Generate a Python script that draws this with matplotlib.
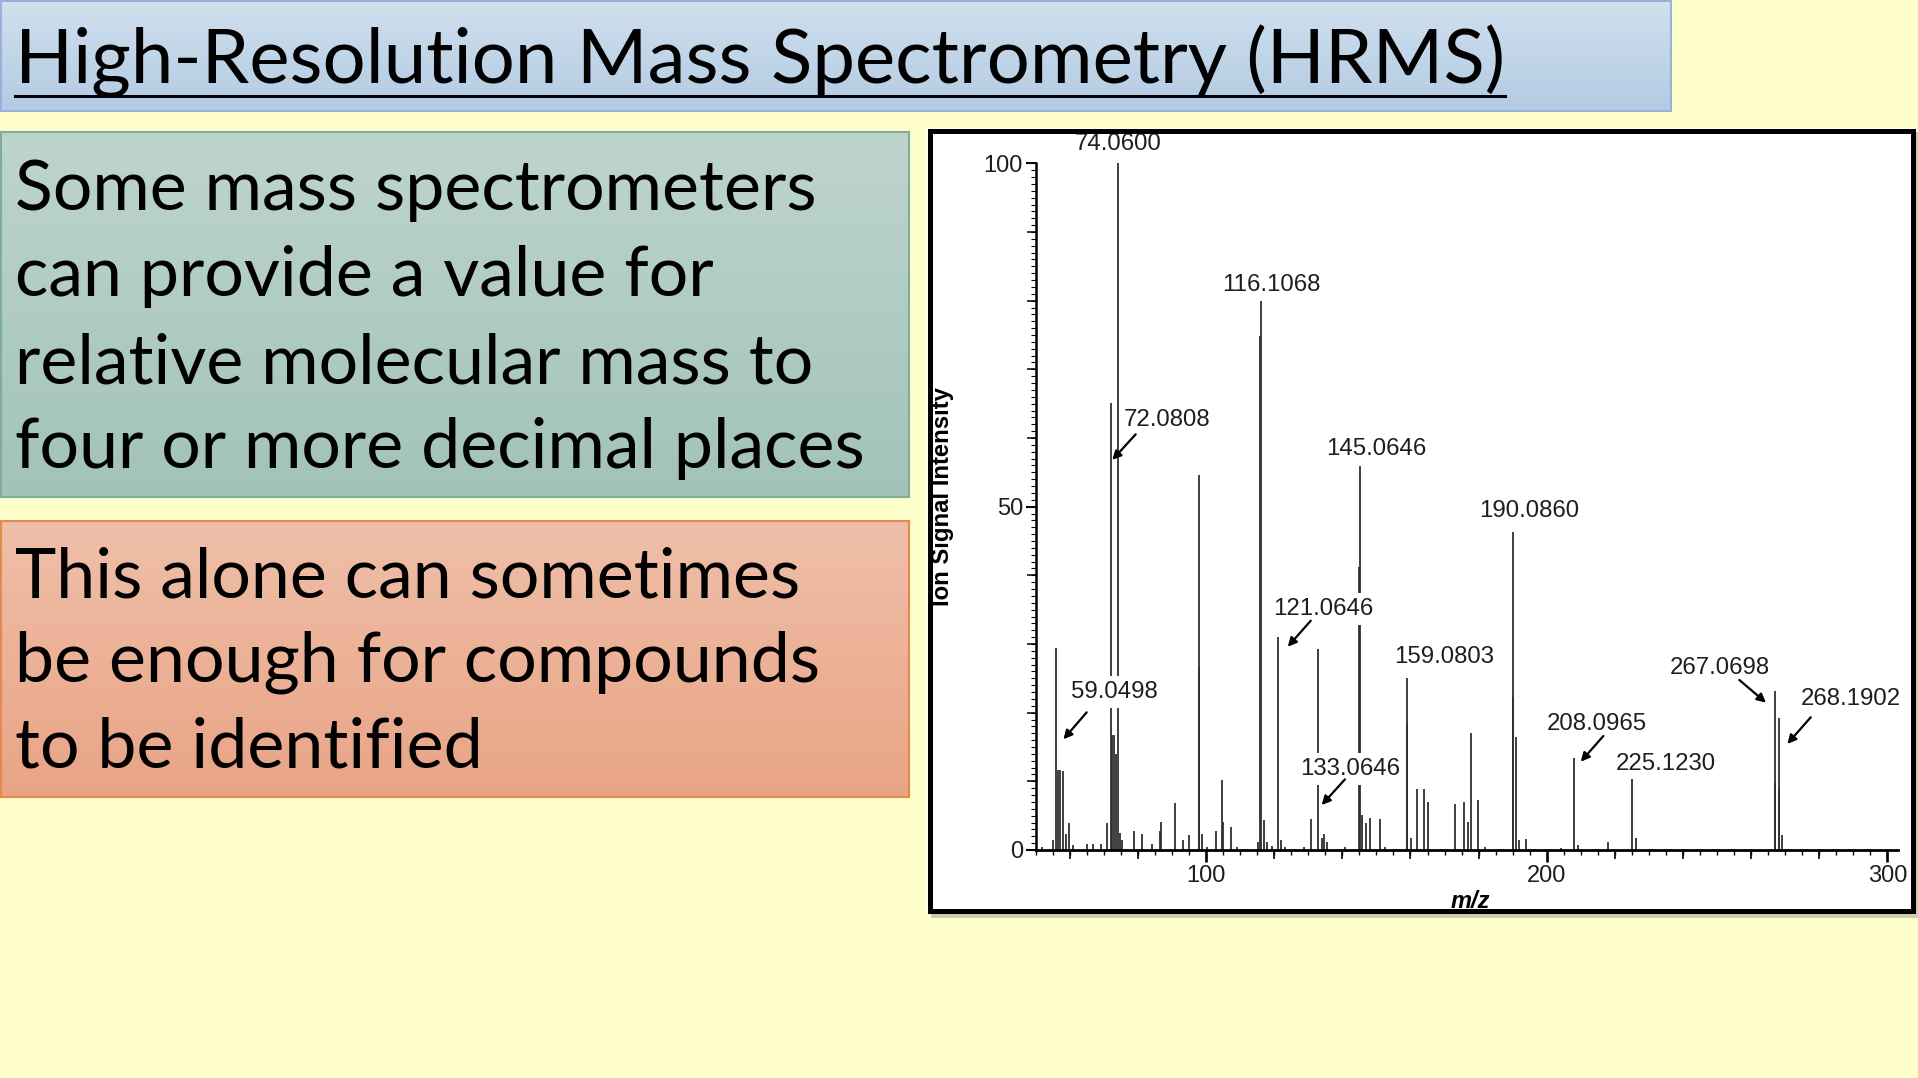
import matplotlib
matplotlib.use("Agg")
import matplotlib.pyplot as plt
import numpy as np
from matplotlib.patches import Rectangle
from matplotlib.lines import Line2D
from matplotlib.transforms import offset_copy
from matplotlib.ticker import MultipleLocator, FixedLocator, NullFormatter
from matplotlib.colors import to_rgb

plt.rcParams['font.family'] = ['Liberation Sans', 'DejaVu Sans']

# ---------------- data ----------------
title_text = "High-Resolution Mass Spectrometry (HRMS)"
green_lines = ["Some mass spectrometers",
               "can provide a value for",
               "relative molecular mass to",
               "four or more decimal places"]
orange_lines = ["This alone can sometimes",
                "be enough for compounds",
                "to be identified"]

peak_mz = [51.7, 55.1, 56.0, 56.4, 57.1, 58.1, 58.8, 59.8, 61.0, 65.1, 66.9, 69.1,
           70.8, 72.08, 72.5, 73.0, 73.5, 74.06, 74.6, 75.4, 78.9, 81.1, 84.2,
           86.5, 86.8, 90.9, 93.1, 95.0, 97.9, 98.0, 98.7, 100.2, 102.9, 104.8,
           105.1, 107.2, 109.0, 115.15, 115.95, 116.11, 117.0, 117.8, 119.3,
           121.06, 121.9, 123.2, 128.8, 130.8, 132.9, 134.1, 134.7, 135.4,
           140.8, 144.95, 145.06, 145.85, 146.9, 148.1, 151.0, 152.5, 159.0,
           159.08, 160.1, 162.0, 163.96, 165.05, 173.1, 175.8, 177.0, 177.8,
           179.7, 181.9, 190.0, 190.09, 191.0, 191.9, 193.8, 204.2, 208.1,
           209.1, 218.1, 225.12, 226.1, 267.0, 267.07, 268.1, 268.19, 269.0]
peak_int = [0.4, 1.5, 29.4, 11.6, 11.6, 11.5, 2.4, 4.0, 0.7, 0.9, 0.9, 0.9,
            4.0, 65.1, 16.7, 16.7, 14.0, 100.0, 2.5, 1.5, 2.8, 2.3, 0.9,
            2.7, 4.1, 6.8, 1.4, 2.2, 26.7, 54.6, 2.3, 0.4, 2.7, 10.2,
            4.1, 3.4, 0.4, 1.2, 74.8, 80.5, 4.3, 1.2, 0.6,
            31.0, 1.4, 0.4, 0.4, 4.5, 29.2, 1.7, 2.4, 1.2,
            0.4, 41.2, 55.9, 5.1, 3.9, 4.6, 4.5, 0.4, 18.4,
            25.0, 1.7, 8.9, 8.9, 7.0, 6.7, 7.0, 4.1, 17.0,
            7.3, 0.4, 22.3, 46.3, 16.4, 1.4, 1.6, 0.3, 13.4,
            0.8, 1.1, 10.3, 1.7, 9.7, 23.1, 8.7, 19.2, 2.2]

label_text = ["74.0600", "72.0808", "116.1068", "145.0646", "190.0860",
              "121.0646", "59.0498", "133.0646", "159.0803", "208.0965",
              "225.1230", "267.0698", "268.1902"]
# peak each label refers to (m/z, intensity)
label_mz = [74.06, 72.08, 116.11, 145.06, 190.09, 121.06, 58.1, 134.1,
            159.08, 208.1, 225.12, 267.07, 268.19]
label_int = [100.0, 65.1, 80.5, 55.9, 46.3, 31.0, 11.5, 1.7, 25.0, 13.4,
             10.3, 23.1, 19.2]

x_ticks = [100, 200, 300]
y_ticks = [0, 50, 100]
x_label = "m/z"
y_label = "Ion Signal Intensity"

# ---------------- layout (pixels) ----------------
W, H, DPI = 1918, 1078, 100
# text-centre offsets from the labelled peak top (px, y up)
label_offsets = [(0, 21.6), (56.5, -15.3), (10, 14.2), (16.4, 19.4), (16, 23.1),
                 (45.2, 30.4), (50.6, 81), (27.7, 71.6), (36.6, 23.3), (22.2, 36),
                 (33.7, 17.6), (-55.2, 25.4), (72, 20.7)]
# arrows: label index -> (tip offset, tail offset)
arrows = {1: ((1.3, -57), (24.7, -31.3)),
          5: ((9.9, -9.6), (32.9, 16.4)),
          6: ((0, 31.7), (23.3, 58.7)),
          7: ((-0.6, 33.3), (22.7, 59)),
          9: ((6.4, -3.7), (29, 22)),
          11: ((-9.2, -11.3), (-35.9, 11.4)),
          12: ((8.3, -25.8), (31.7, 0.9))}

fig = plt.figure(figsize=(W / DPI, H / DPI), dpi=DPI)
fig.patch.set_facecolor('#FFFFCC')

bg = fig.add_axes([0, 0, 1, 1], zorder=0)
bg.set_axis_off()


def grad_box(x0, y0, x1, y1, ctop, cbot, edge, lw):
    c0 = np.array(to_rgb(ctop))
    c1 = np.array(to_rgb(cbot))
    t = np.linspace(0, 1, 256)[:, None, None]
    img = c0 * (1 - t) + c1 * t
    bg.imshow(img, extent=(x0, x1, y1, y0), origin='upper', aspect='auto',
              interpolation='bilinear', zorder=1)
    bg.add_patch(Rectangle((x0, y0), x1 - x0, y1 - y0, fill=False,
                           edgecolor=edge, lw=lw, zorder=2))


grad_box(0.5, 0.5, 1671, 111, '#D0E0EE', '#B3CBE3', '#95B3D7', 1.5)
grad_box(0.5, 132, 909, 497, '#BED5CD', '#A2C3B8', '#7FAD9C', 1.5)
grad_box(0.5, 521, 909, 797, '#EFBFA9', '#E9A486', '#E48A4E', 1.5)

# chart frame shadow + white fill
bg.add_patch(Rectangle((931, 132), 988, 786, facecolor='#CFCDA6', edgecolor='none', zorder=1))
bg.add_patch(Rectangle((927, 128), 988, 785, facecolor='white', edgecolor='none', zorder=2))

bg.set_xlim(0, W)
bg.set_ylim(H, 0)

renderer = fig.canvas.get_renderer()


def fit(t, target, dim='width'):
    for _ in range(3):
        bb = t.get_window_extent(renderer)
        cur = bb.width if dim == 'width' else bb.height
        t.set_fontsize(t.get_fontsize() * target / cur)
    return t.get_fontsize()


tt = bg.text(15, 83, title_text, fontsize=50, family='Lato', color='black',
             ha='left', va='baseline', zorder=5)
fit(tt, 1490)
bg.add_line(Line2D([15, 1505], [96, 96], color='black', lw=2.2, zorder=5))

body = []
targets = []
for s, yb, w in zip(green_lines, [210, 296, 383, 468], [802, 701, 798, 853]):
    body.append(bg.text(15, yb, s, fontsize=36, family='Lato', color='black',
                        ha='left', va='baseline', zorder=5))
    targets.append(w)
for s, yb, w in zip(orange_lines, [597, 681, 768], [786, 812, 466]):
    body.append(bg.text(15, yb, s, fontsize=36, family='Lato', color='black',
                        ha='left', va='baseline', zorder=5))
    targets.append(w)
sizes = [fit(t, w) for t, w in zip(body, targets)]
common = float(np.median(sizes))
for t in body:
    t.set_fontsize(common)

yl = bg.text(943, 497, y_label, rotation=90, fontweight='bold', fontsize=14,
             ha='center', va='center', color='black', zorder=5)
fit(yl, 218, 'height')
bg.text(1470, 890, x_label, fontsize=17, fontweight='bold', fontstyle='italic',
        ha='center', va='top', color='black', zorder=5)

# ---------------- spectrum axes ----------------
left_px, right_px, bot_px, top_px = 1035.8, 1897.6, 850.0, 163.3
ax = fig.add_axes([left_px / W, 1 - bot_px / H, (right_px - left_px) / W,
                   (bot_px - top_px) / H], zorder=1)
ax.patch.set_alpha(0)
ax.vlines(peak_mz, 0, peak_int, colors='#303030', lw=1.3, zorder=2)
ax.set_xlim(50, 303)
ax.set_ylim(0, 100)
for s in ['top', 'right']:
    ax.spines[s].set_visible(False)
ax.spines['left'].set_linewidth(1.8)
ax.spines['bottom'].set_linewidth(2.0)
ax.spines['left'].set_zorder(3)
ax.spines['bottom'].set_zorder(3)
ax.set_xticks(x_ticks)
ax.set_yticks(y_ticks)
ax.xaxis.set_minor_locator(MultipleLocator(5))
ax.yaxis.set_minor_locator(MultipleLocator(1))
ax.tick_params(which='major', direction='out', color='black', labelsize=17,
               labelcolor='#1e1e1e')
ax.tick_params(axis='x', which='major', length=8.5, width=1.9, pad=2.5)
ax.tick_params(axis='y', which='major', length=7.2, width=1.5, pad=2)
ax.tick_params(axis='x', which='minor', direction='out', length=3.6, width=1.0)
ax.tick_params(axis='y', which='minor', direction='out', length=3.4, width=0.8)

secx = ax.secondary_xaxis('bottom')
secx.xaxis.set_major_locator(FixedLocator([60, 80, 120, 140, 160, 180, 220, 240, 260, 280]))
secx.xaxis.set_major_formatter(NullFormatter())
secx.tick_params(axis='x', direction='out', length=6.5, width=1.2, color='black')
secx.spines['bottom'].set_visible(False)

secy = ax.secondary_yaxis('left')
secy.yaxis.set_major_locator(FixedLocator([10, 20, 30, 40, 60, 70, 80, 90]))
secy.yaxis.set_major_formatter(NullFormatter())
secy.tick_params(axis='y', direction='out', length=6.5, width=1.1, color='black')
secy.spines['left'].set_visible(False)

for txt, mz, h, (dx, dy) in zip(label_text, label_mz, label_int, label_offsets):
    ax.annotate(txt, xy=(mz, h), xytext=(dx, dy - 8), textcoords='offset pixels',
                ha='center', va='baseline', fontsize=17.3, color='#1e1e1e',
                bbox=dict(boxstyle='square,pad=0.2', fc='white', ec='none'),
                zorder=4, annotation_clip=False)

for idx, (tip, tail) in arrows.items():
    mz, h = label_mz[idx], label_int[idx]
    ax.annotate('', xy=(mz, h),
                xycoords=offset_copy(ax.transData, fig=fig, x=tip[0], y=tip[1], units='dots'),
                xytext=(mz, h),
                textcoords=offset_copy(ax.transData, fig=fig, x=tail[0], y=tail[1], units='dots'),
                arrowprops=dict(arrowstyle='-|>', color='black', lw=1.6,
                                mutation_scale=13, shrinkA=0, shrinkB=0),
                zorder=5, annotation_clip=False)

# ---------------- frame on top ----------------
top = fig.add_axes([0, 0, 1, 1], zorder=3)
top.set_axis_off()
top.set_xlim(0, W)
top.set_ylim(H, 0)
top.add_patch(Rectangle((929.5, 130.5), 983, 780, fill=False, edgecolor='black', lw=3.6))

fig.savefig('out.png', dpi=DPI, facecolor=fig.get_facecolor())
